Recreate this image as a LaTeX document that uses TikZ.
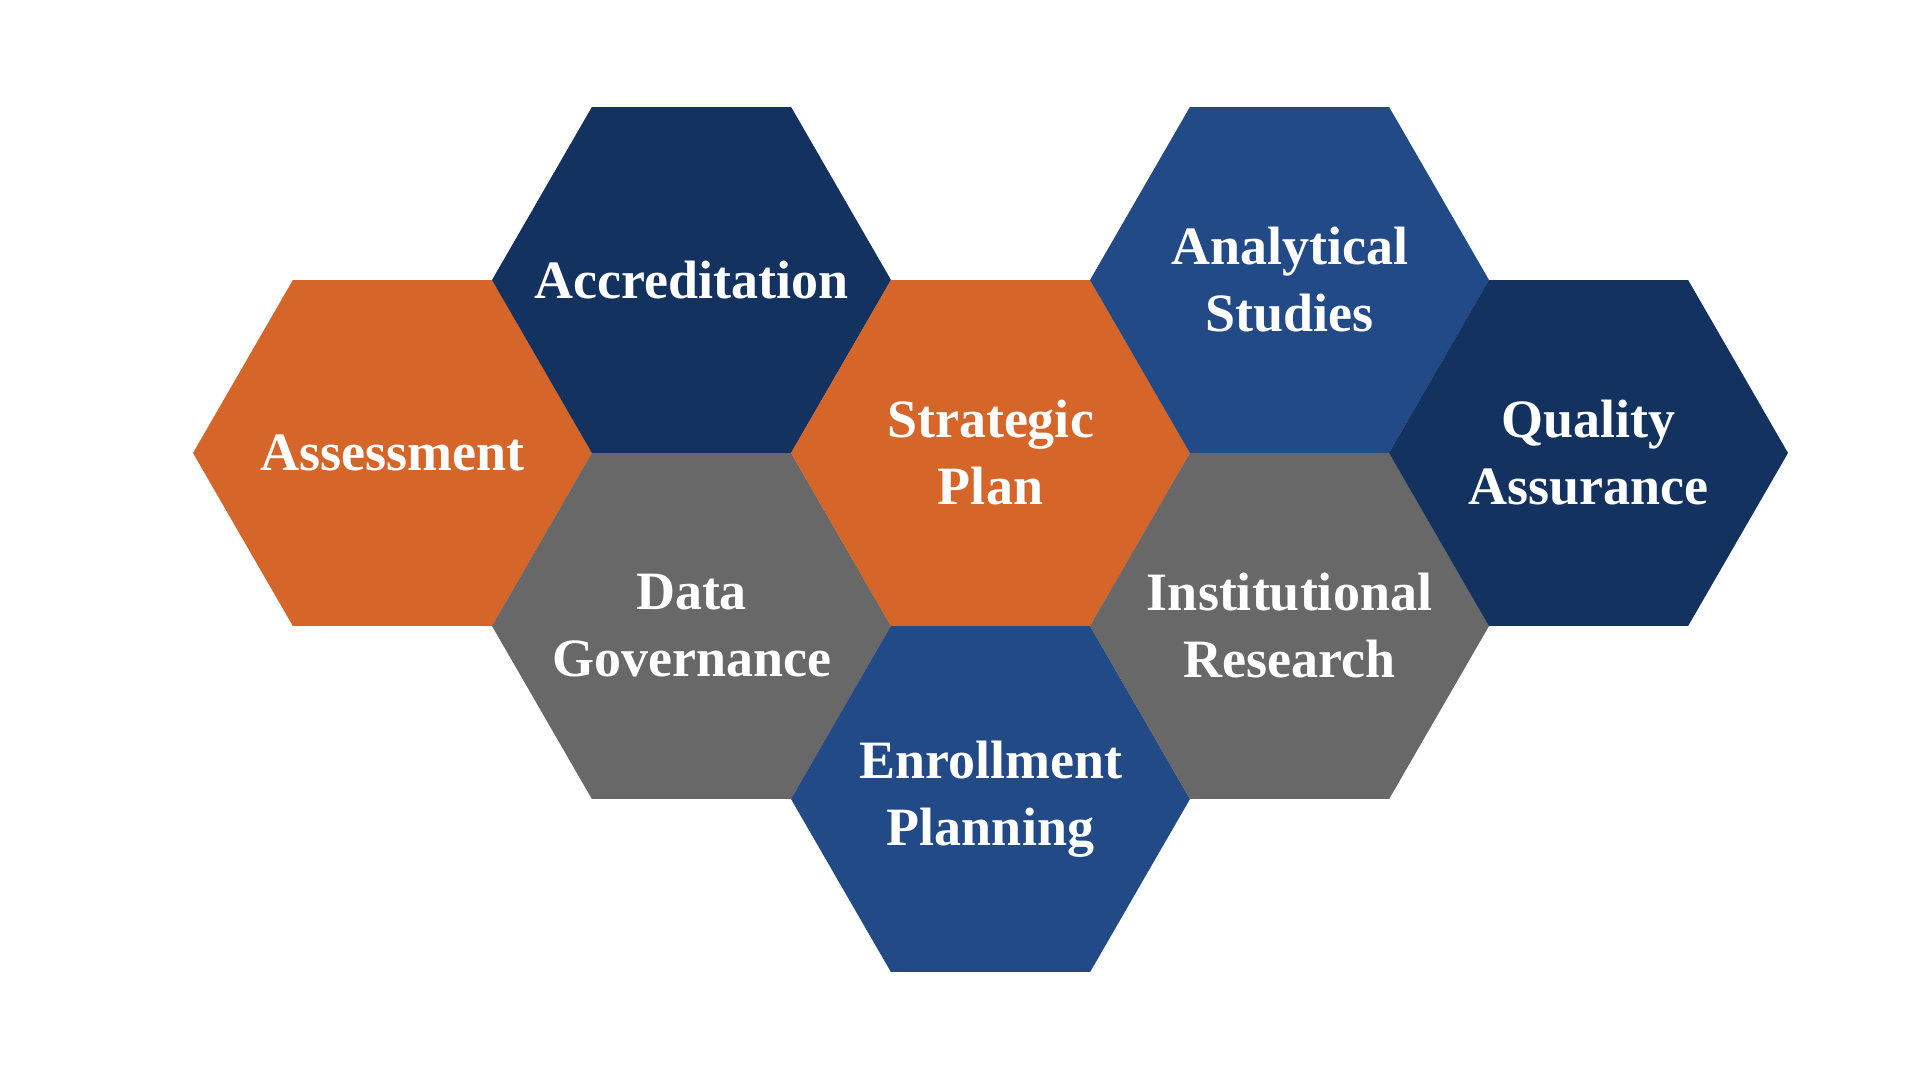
\documentclass[tikz,border=0pt]{standalone}
\usepackage{fontspec}
\setmainfont{Liberation Serif}
\usetikzlibrary{shapes.geometric}
\definecolor{hexorange}{HTML}{D6652A}
\definecolor{hexnavy}{HTML}{13325F}
\definecolor{hexblue}{HTML}{214A86}
\definecolor{hexgrey}{HTML}{686868}
\tikzset{
  hexcell/.style={regular polygon, regular polygon sides=6, minimum size=399pt,
    inner sep=0pt, outer sep=0pt, draw=none, fill=#1},
  hexlabel/.style={text=white, align=center, inner sep=0pt,
    font=\fontsize{54}{67}\selectfont\bfseries}
}
\begin{document}
\begin{tikzpicture}[x=1pt,y=-1pt]
\useasboundingbox[fill=white] (0,0) rectangle (1920,1080);
\node[hexcell=hexorange] (assess) at (392.5,453) {};
\node[hexcell=hexnavy]   (accred) at (691.5,280) {};
\node[hexcell=hexgrey]   (datagov) at (691.5,626) {};
\node[hexcell=hexorange] (strat) at (990.5,453) {};
\node[hexcell=hexblue]   (enroll) at (990.5,799) {};
\node[hexcell=hexblue]   (analyt) at (1289.5,280) {};
\node[hexcell=hexgrey]   (instres) at (1289.5,626) {};
\node[hexcell=hexnavy]   (quality) at (1588.5,453) {};

\node[hexlabel] (tassess) at (assess.center) {Assessment};
\node[hexlabel] (taccred) at (accred.center) {Accreditation};
\node[hexlabel] (tdatagov) at (datagov.center) {Data\\Governance};
\node[hexlabel] (tstrat) at (strat.center) {Strategic\\Plan};
\node[hexlabel] (tenroll) at (enroll.center) {Enrollment\\Planning};
\node[hexlabel] (tanalyt) at (analyt.center) {Analytical\\Studies};
\node[hexlabel] (tinstres) at (instres.center) {Institutional\\Research};
\node[hexlabel] (tquality) at (quality.center) {Quality\\Assurance};
\end{tikzpicture}
\end{document}
